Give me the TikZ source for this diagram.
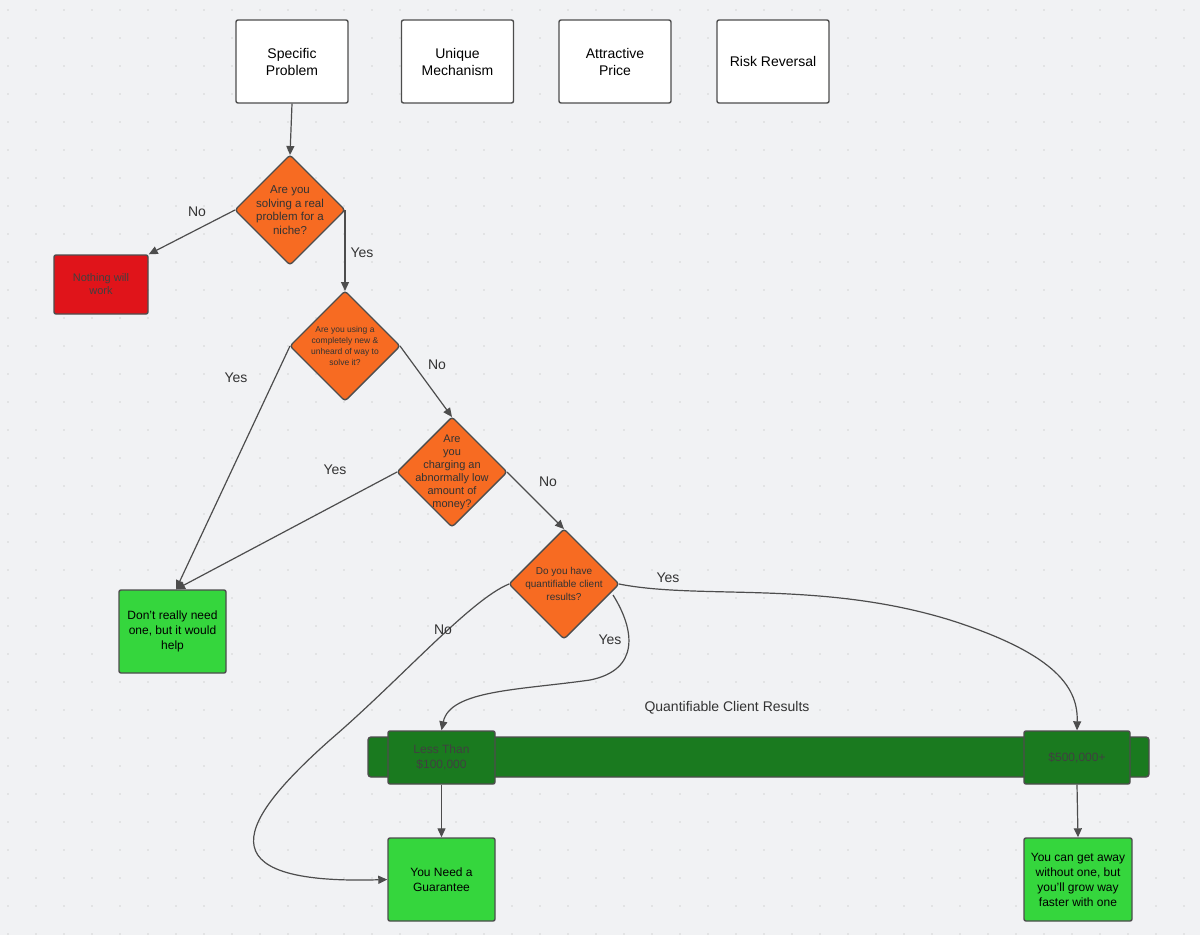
\documentclass[tikz,border=0pt]{standalone}
\usepackage{fontspec}
\setmainfont{Liberation Sans}
\usetikzlibrary{arrows.meta}
\definecolor{bg}{HTML}{F1F2F4}
\definecolor{bord}{HTML}{4D4D4D}
\definecolor{orng}{HTML}{F76B22}
\definecolor{lgreen}{HTML}{35D63D}
\definecolor{dgreen}{HTML}{1A7A1F}
\definecolor{rred}{HTML}{E0141A}
\begin{document}
\begin{tikzpicture}[x=1pt,y=-1pt,
  box/.style={draw=bord,line width=1.4pt,rounded corners=2pt,align=center,inner sep=0pt},
  topbox/.style={box,fill=white,minimum width=112pt,minimum height=83pt,font=\fontsize{14}{17}\selectfont},
  dia/.style={draw=bord,line width=1.4pt,fill=orng,rounded corners=3pt},
  lab/.style={font=\fontsize{14}{17}\selectfont,text=black!80},
  arr/.style={draw=bord,line width=1.2pt,-{Triangle[length=9pt,width=8pt]}}]
\fill[bg] (0,0) rectangle (1200,935);
\useasboundingbox (0,0) rectangle (1200,935);
\foreach \i in {0,...,42}{\foreach \j in {0,...,33}{\fill[gray!60] (8+28*\i,10+28*\j) circle (0.7pt);}}
% top boxes
\node[topbox] (sp) at (292,61.5) {Specific\\Problem};
\node[topbox] (um) at (457.5,61.5) {Unique\\Mechanism};
\node[topbox] (ap) at (615,61.5) {Attractive\\Price};
\node[topbox] (rr) at (773,61.5) {Risk Reversal};
% diamonds
\foreach \n/\x/\y in {d1/290/210,d2/345/346,d3/452/472,d4/564/584}{
  \draw[dia] (\x,\y-55) -- (\x+55,\y) -- (\x,\y+55) -- (\x-55,\y) -- cycle;
  \coordinate (\n t) at (\x,\y-55); \coordinate (\n l) at (\x-55,\y);
  \coordinate (\n r) at (\x+55,\y); \coordinate (\n b) at (\x,\y+55);}
\node[align=center,font=\fontsize{11.5}{13.5}\selectfont,text=black!80] (t1) at (290,210) {Are you\\solving a real\\problem for a\\niche?};
\node[align=center,font=\fontsize{8.5}{11}\selectfont,text=black!80] (t2) at (345,346) {Are you using a\\completely new \&\\unheard of way to\\solve it?};
\node[align=center,font=\fontsize{11}{13}\selectfont,text=black!80] (t3) at (452,472) {Are\\you\\charging an\\abnormally low\\amount of\\money?};
\node[align=center,font=\fontsize{10}{13}\selectfont,text=black!80] (t4) at (564,584) {Do you have\\quantifiable client\\results?};
% result boxes
\node[box,fill=rred,minimum width=94pt,minimum height=59pt,font=\fontsize{11}{13}\selectfont,text=black!75] (nw) at (101,284.5) {Nothing will\\work};
\node[box,fill=lgreen,minimum width=107pt,minimum height=83pt,font=\fontsize{12}{15}\selectfont] (dr) at (172.5,631.5) {Don't really need\\one, but it would\\help};
\draw[draw=bord,line width=1.4pt,fill=dgreen,rounded corners=3pt] (368,737) rectangle (1149,777);
\node[box,fill=dgreen,minimum width=107pt,minimum height=53pt,font=\fontsize{12}{15}\selectfont,text=black!75] (lt) at (441.5,757.5) {Less Than\\\$100,000};
\node[box,fill=dgreen,minimum width=106pt,minimum height=53pt,font=\fontsize{12}{15}\selectfont,text=black!75] (hk) at (1077,757.5) {\$500,000+};
\node[lab] (qcr) at (727,708) {Quantifiable Client Results};
\node[box,fill=lgreen,minimum width=107pt,minimum height=83pt,font=\fontsize{12}{15}\selectfont] (gu) at (441.5,879.5) {You Need a\\Guarantee};
\node[box,fill=lgreen,minimum width=108pt,minimum height=83pt,font=\fontsize{12}{15}\selectfont] (ga) at (1078,879.5) {You can get away\\without one, but\\you'll grow way\\faster with one};
% arrows
\draw[arr] (sp.south) -- (d1t);
\draw[arr] (d1l) -- (nw.north east);
\draw[arr] (d1r) -- (d2t);
\draw[arr] (d2l) -- ([xshift=3.5pt]dr.north);
\draw[arr] (d2r) -- (d3t);
\draw[arr] (d3l) -- ([xshift=3.5pt]dr.north);
\draw[arr] (d3r) -- (d4t);
\draw[arr] (d4l) .. controls (470,600) and (400,680) .. (330,740) .. controls (240,820) and (200,885) .. (gu.west);
\draw[arr] (d4r) .. controls (700,600) and (820,580) .. (950,620) .. controls (1060,655) and (1078,690) .. (hk.north);
\draw[arr] (613,595) .. controls (635,630) and (640,670) .. (590,680) .. controls (520,690) and (450,690) .. (lt.north);
\draw[arr] (lt.south) -- (gu.north);
\draw[arr] (hk.south) -- (ga.north);
% labels
\node[lab] (n1) at (197,212) {No};
\node[lab] (y1) at (362,253) {Yes};
\node[lab] (y2) at (236,378) {Yes};
\node[lab] (n2) at (437,365) {No};
\node[lab] (y3) at (335,470) {Yes};
\node[lab] (n3) at (548,482) {No};
\node[lab] (n4) at (443,630) {No};
\node[lab] (y4) at (668,578) {Yes};
\node[lab] (y5) at (610,640) {Yes};
\end{tikzpicture}
\end{document}
